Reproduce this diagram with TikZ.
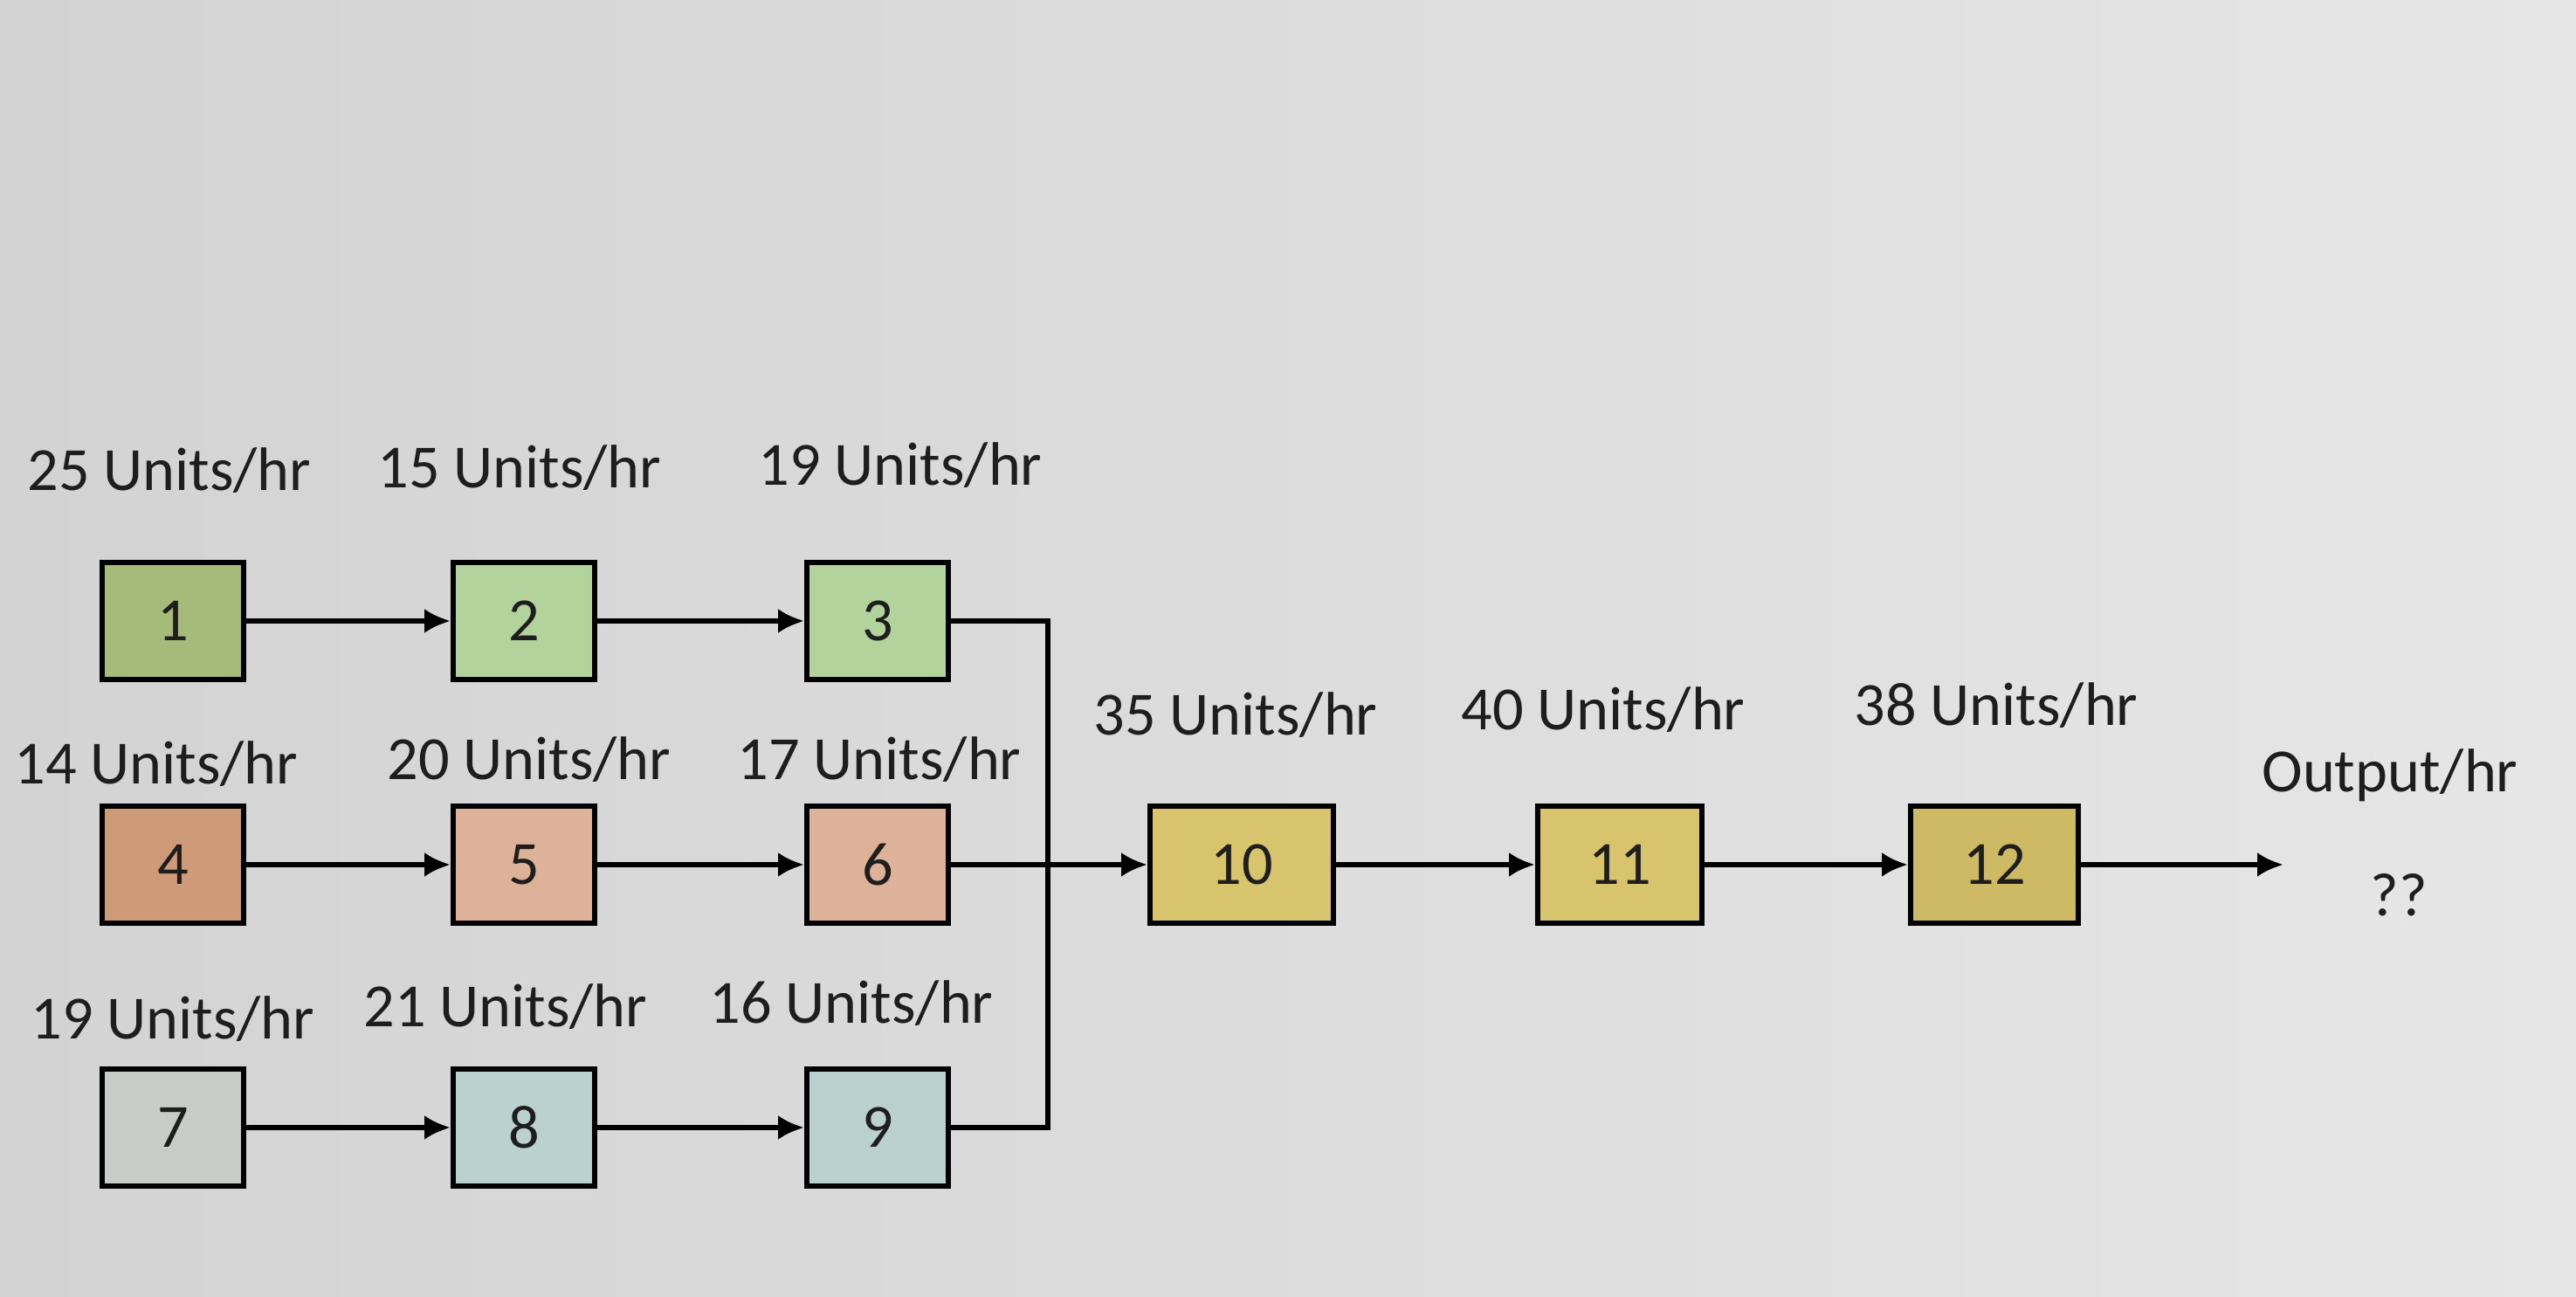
\documentclass[tikz,border=0pt]{standalone}
\usepackage{fontspec}
\setmainfont{Carlito}
\usepackage{tikz}
\usetikzlibrary{arrows.meta,positioning,calc}

\definecolor{bgleft}{HTML}{D3D3D3}
\definecolor{bgright}{HTML}{E6E6E6}
\definecolor{greenA}{HTML}{A6BA7A}
\definecolor{greenB}{HTML}{B2D49C}
\definecolor{orangeA}{HTML}{CF9A78}
\definecolor{orangeB}{HTML}{DEB298}
\definecolor{greyA}{HTML}{C9CDC9}
\definecolor{blueB}{HTML}{BAD1CF}
\definecolor{yellowA}{HTML}{D8C46C}
\definecolor{yellowB}{HTML}{CEB964}
\definecolor{ink}{HTML}{1E1E1E}

\begin{document}
\begin{tikzpicture}[>={Latex[length=3mm,width=2.8mm]},line width=1.6pt]
	\tikzset{station/.style = {rectangle,draw=black,line width=1.7pt,minimum width=1.62cm,minimum height=1.34cm,text=ink,font=\fontsize{20}{24}\selectfont}}
	\tikzset{rate/.style = {text=ink,font=\fontsize{20}{24}\selectfont}}
	\tikzset{flow/.style = {->}}

	% background
	\useasboundingbox (0,0) rectangle (29.5,14.85);
	\fill[left color=bgleft,right color=bgright] (0,0) rectangle (29.5,14.85);

	% stations
	\node[station,fill=greenA] (n1) at (1.98,7.74) {1};
	\node[station,fill=greenB] (n2) at (6.00,7.74) {2};
	\node[station,fill=greenB] (n3) at (10.05,7.74) {3};
	\node[station,fill=orangeA] (n4) at (1.98,4.95) {4};
	\node[station,fill=orangeB] (n5) at (6.00,4.95) {5};
	\node[station,fill=orangeB] (n6) at (10.05,4.95) {6};
	\node[station,fill=greyA] (n7) at (1.98,1.94) {7};
	\node[station,fill=blueB] (n8) at (6.00,1.94) {8};
	\node[station,fill=blueB] (n9) at (10.05,1.94) {9};
	\node[station,fill=yellowA,minimum width=2.1cm] (n10) at (14.22,4.95) {10};
	\node[station,fill=yellowA,minimum width=1.88cm] (n11) at (18.55,4.95) {11};
	\node[station,fill=yellowB,minimum width=1.92cm] (n12) at (22.84,4.95) {12};

	% rates
	\node[rate] (r1) at (1.94,9.46) {25 Units/hr};
	\node[rate] (r2) at (5.95,9.49) {15 Units/hr};
	\node[rate] (r3) at (10.31,9.52) {19 Units/hr};
	\node[rate] (r4) at (1.79,6.10) {14 Units/hr};
	\node[rate] (r5) at (6.06,6.15) {20 Units/hr};
	\node[rate] (r6) at (10.07,6.15) {17 Units/hr};
	\node[rate] (r7) at (1.98,3.18) {19 Units/hr};
	\node[rate] (r8) at (5.79,3.32) {21 Units/hr};
	\node[rate] (r9) at (9.75,3.36) {16 Units/hr};
	\node[rate] (r10) at (14.15,6.66) {35 Units/hr};
	\node[rate] (r11) at (18.36,6.72) {40 Units/hr};
	\node[rate] (r12) at (22.86,6.77) {38 Units/hr};
	\node[rate] (outlabel) at (27.37,5.97) {Output/hr};
	\node[rate] (outvalue) at (27.47,4.60) {??};

	% edges
	\coordinate (bus) at (12.00,4.95);
	\coordinate (out) at (26.15,4.95);
	\draw[flow] (n1) -- (n2);
	\draw[flow] (n2) -- (n3);
	\draw[flow] (n4) -- (n5);
	\draw[flow] (n5) -- (n6);
	\draw[flow] (n7) -- (n8);
	\draw[flow] (n8) -- (n9);
	\draw (n3.east) -| (bus) |- (n9.east);
	\draw[flow] (n6) -- (n10);
	\draw[flow] (n10) -- (n11);
	\draw[flow] (n11) -- (n12);
	\draw[flow] (n12) -- (out);

\end{tikzpicture}
\end{document}
